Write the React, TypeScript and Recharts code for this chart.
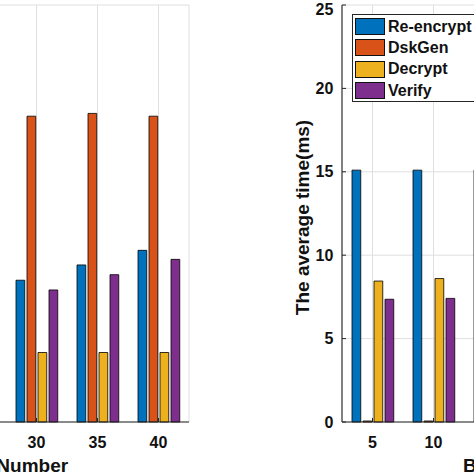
import React from "react";
import {
  BarChart,
  Bar,
  XAxis,
  YAxis,
  CartesianGrid,
  Legend,
} from "recharts";

// left panel (only its right part is inside the crop)
const leftCats = ["30", "35", "40"];
const leftReEncrypt = [10.2, 11.3, 12.35];
const leftDskGen = [22.0, 22.2, 22.0];
const leftDecrypt = [5.0, 5.0, 5.0];
const leftVerify = [9.5, 10.6, 11.7];
const leftTicks = [0, 10, 20, 30];

// right panel
const rightCats = ["5", "10", "15"];
const rightReEncrypt = [15.1, 15.1, 15.1];
const rightDskGen = [0.06, 0.06, 0.06];
const rightDecrypt = [8.45, 8.6, 8.7];
const rightVerify = [7.36, 7.41, 7.5];
const rightTicks = [0, 5, 10, 15, 20, 25];

const FONT = '"Liberation Sans", Arial, Helvetica, sans-serif';
const AXIS = "#262626";
const GRID = "#dfdfdf";

// matlab default bar colours, in legend order
const SERIES = [
  { key: "reenc", name: "Re-encrypt", color: "#0072BD" },
  { key: "dskgen", name: "DskGen", color: "#D95319" },
  { key: "decrypt", name: "Decrypt", color: "#EDB120" },
  { key: "verify", name: "Verify", color: "#7E2F8E" },
];

const tickStyle = { fill: "#111", fontSize: 16, fontWeight: 700, fontFamily: FONT };
const labelStyle = { fill: "#111", fontSize: 19, fontWeight: 700, fontFamily: FONT };

function toRows(cats: string[], a: number[], b: number[], c: number[], d: number[]) {
  return cats.map((n, i) => ({ n, reenc: a[i], dskgen: b[i], decrypt: c[i], verify: d[i] }));
}

const leftData = toRows(leftCats, leftReEncrypt, leftDskGen, leftDecrypt, leftVerify);
const rightData = toRows(rightCats, rightReEncrypt, rightDskGen, rightDecrypt, rightVerify);

function BoxLegend({ payload }: { payload?: any[] }) {
  // recharts sorts the payload by name, put it back in series order
  const items = SERIES.map((s) => (payload ?? []).find((p) => p.value === s.name)).filter(Boolean);
  return (
    <div
      style={{
        border: `1px solid ${AXIS}`,
        background: "#fff",
        padding: "1px 10px 0 2px",
        fontFamily: FONT,
        fontWeight: 700,
        fontSize: 16,
        color: "#111",
        width: 130,
      }}
    >
      {items.map((p: any) => (
        <div key={p.value} style={{ display: "flex", alignItems: "center", height: 21.3 }}>
          <span
            style={{
              width: 30,
              height: 17,
              background: p.color,
              border: "1px solid #111",
              boxSizing: "border-box",
              marginRight: 3,
              flex: "none",
            }}
          />
          <span style={{ whiteSpace: "nowrap" }}>{p.value}</span>
        </div>
      ))}
    </div>
  );
}

function Panel({
  data,
  width,
  yWidth,
  yTicks,
  padding,
  xLabel,
  yLabel,
  legend,
}: {
  data: any[];
  width: number;
  yWidth: number;
  yTicks: number[];
  padding: { left?: number; right?: number };
  xLabel: string;
  yLabel?: string;
  legend?: { left: number; top: number };
}) {
  const yMax = yTicks[yTicks.length - 1];
  return (
    <BarChart
      width={width}
      height={474}
      data={data}
      margin={{ top: 5, right: 2, bottom: 0, left: 0 }}
      barSize={8.75}
      barGap={2.25}
    >
      <CartesianGrid stroke={GRID} strokeWidth={1} />
      <XAxis
        dataKey="n"
        padding={padding}
        height={52}
        tickSize={-4}
        tickMargin={19}
        tick={tickStyle}
        axisLine={{ stroke: AXIS, strokeWidth: 1.1 }}
        tickLine={{ stroke: AXIS }}
        label={{ value: xLabel, position: "insideBottom", offset: 2, style: labelStyle }}
      />
      <XAxis
        xAxisId="top"
        orientation="top"
        dataKey="n"
        padding={padding}
        height={0}
        tickSize={-4}
        tick={false}
        axisLine={{ stroke: AXIS, strokeWidth: 1.1 }}
        tickLine={{ stroke: AXIS }}
      />
      <YAxis
        domain={[0, yMax]}
        ticks={yTicks}
        width={yWidth}
        tickSize={-4}
        tickMargin={12.7}
        tick={yLabel ? tickStyle : false}
        axisLine={{ stroke: AXIS, strokeWidth: 1.1 }}
        tickLine={{ stroke: AXIS }}
        label={
          yLabel
            ? {
                value: yLabel,
                angle: -90,
                position: "insideLeft",
                offset: 22.5,
                dy: 4,
                style: { ...labelStyle, textAnchor: "middle" },
              }
            : undefined
        }
      />
      <YAxis
        yAxisId="right"
        orientation="right"
        domain={[0, yMax]}
        ticks={yTicks}
        width={0}
        tickSize={-4}
        tick={false}
        axisLine={{ stroke: AXIS, strokeWidth: 1.1 }}
        tickLine={{ stroke: AXIS }}
      />
      {SERIES.map((s) => (
        <Bar
          key={s.key}
          dataKey={s.key}
          name={s.name}
          fill={s.color}
          stroke="#000"
          strokeWidth={0.8}
          isAnimationActive={false}
        />
      ))}
      {legend && (
        <Legend
          layout="vertical"
          align="center"
          verticalAlign="middle"
          content={(props: any) => <BoxLegend payload={props.payload} />}
          wrapperStyle={{ left: legend.left, top: legend.top, width: "auto" }}
        />
      )}
    </BarChart>
  );
}

export default function App() {
  return (
    <div
      style={{
        position: "absolute",
        left: 0,
        top: 0,
        width: 474,
        height: 474,
        overflow: "hidden",
        background: "#fff",
      }}
    >
      {/* left panel: its y axis lies outside the crop */}
      <div style={{ position: "absolute", left: -270, top: 0 }}>
        <Panel
          data={leftData}
          width={461}
          yWidth={61}
          yTicks={leftTicks}
          padding={{ left: 215 }}
          xLabel="Attribute Number"
        />
      </div>
      <div style={{ position: "absolute", left: 280, top: 0 }}>
        <Panel
          data={rightData}
          width={435}
          yWidth={62}
          yTicks={rightTicks}
          padding={{ right: 188 }}
          xLabel="Block Number"
          yLabel="The average time(ms)"
          legend={{ left: 72, top: 14 }}
        />
      </div>
    </div>
  );
}
